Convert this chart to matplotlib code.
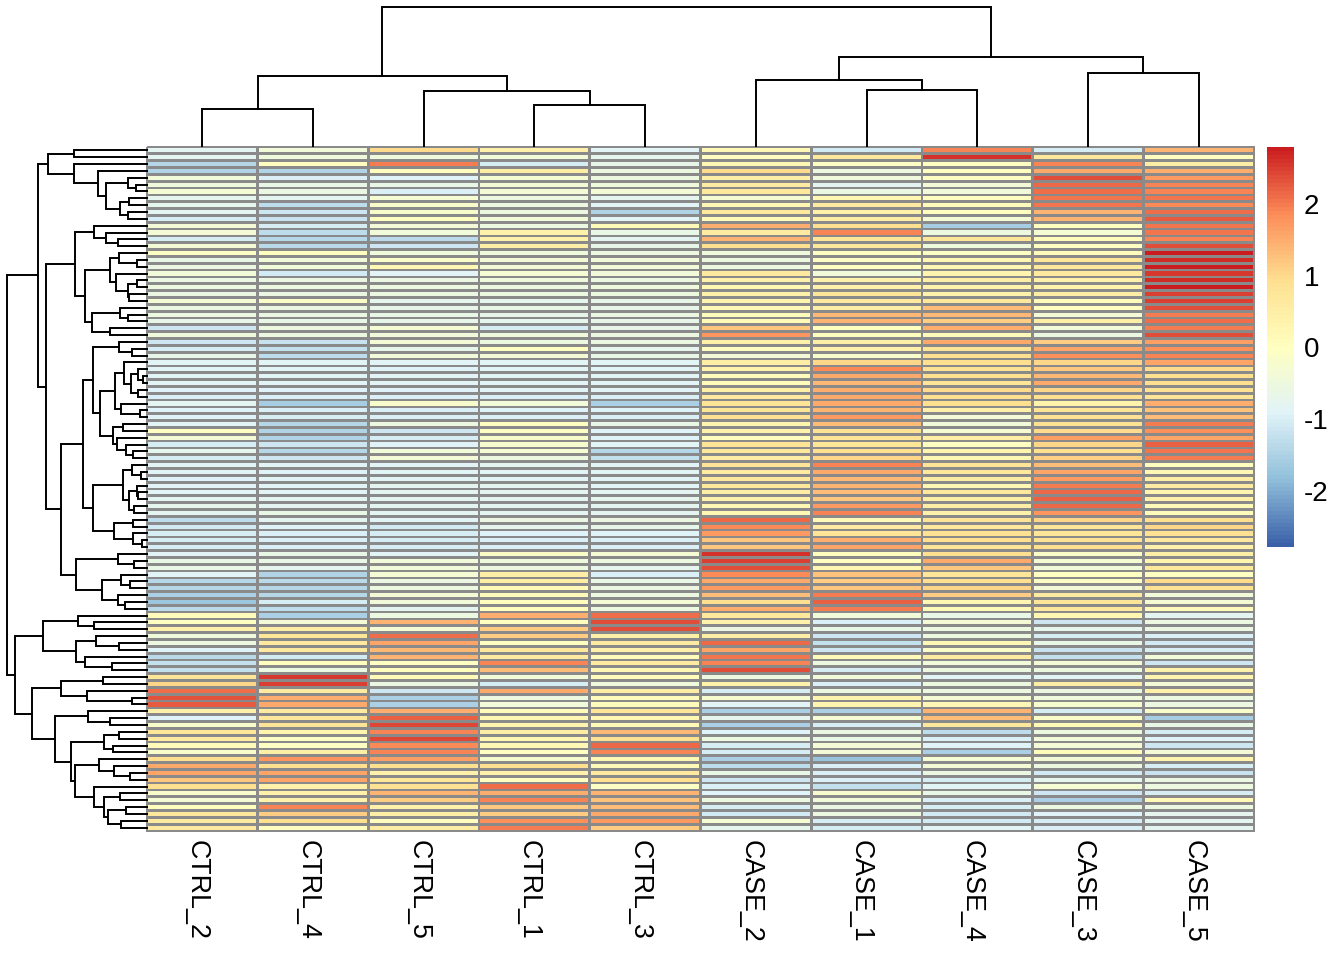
# --------------------------------------
# Clustered expression heatmap (CTRL vs CASE)
# --------------------------------------

import numpy as np
import matplotlib
matplotlib.use("Agg")
import matplotlib.pyplot as plt
from matplotlib.colors import LinearSegmentedColormap, Normalize
from matplotlib.cm import ScalarMappable
from matplotlib.transforms import ScaledTranslation

plt.rcParams["font.family"] = ["Liberation Sans", "DejaVu Sans"]
plt.rcParams["axes.unicode_minus"] = False

# ------------------------------
# Data
# ------------------------------
column_labels = ["CTRL_2", "CTRL_4", "CTRL_5", "CTRL_1", "CTRL_3",
                 "CASE_2", "CASE_1", "CASE_4", "CASE_3", "CASE_5"]
legend_ticks = [-2, -1, 0, 1, 2]
value_min = -2.78
value_max = 2.79

# one line per row: CTRL_2, CTRL_4, CTRL_5, CTRL_1, CTRL_3
ctrl_values = [
    [-0.8, -0.4, 1.0, 0.4, -0.85], [-0.8, -0.45, -0.45, -0.4, -0.75], [-1.4, 0.05, 2.0, -1.05, -0.7],
    [-1.45, -1.45, 0.05, 0.55, -0.55], [-0.4, -0.95, -0.9, -0.3, -0.55], [-0.45, -0.65, -0.65, -0.35, -0.45],
    [-0.3, -0.6, -0.95, -0.35, -0.35], [-0.75, -0.8, -0.3, -0.55, -0.75], [-0.75, -1.3, -0.2, -0.55, -0.85],
    [-0.8, -1.15, -0.2, -0.5, -1.45], [-1.0, -1.2, 0.0, -0.4, -0.85], [-0.35, -1.05, -0.35, -0.55, 0.15],
    [-0.35, -1.3, -0.4, 0.4, -0.65], [-1.0, -1.4, -1.35, 0.4, -0.8], [-0.35, -1.35, -1.15, 0.5, -0.7],
    [-0.1, 0.05, -0.45, -0.45, -0.5], [-0.65, -0.4, -0.15, -0.35, -0.4], [-0.6, -0.4, 0.2, -0.35, -0.4],
    [-0.4, -1.1, -0.85, -0.3, -0.4], [-0.6, -0.6, -0.6, -0.45, -0.5], [-0.5, -0.55, -0.5, -0.5, -0.45],
    [-0.6, -0.6, -0.5, -0.55, -0.55], [-0.35, -0.15, -0.75, -0.75, -0.7], [-0.6, -0.6, -0.7, -0.65, -0.7],
    [-0.55, -0.6, -0.65, -0.7, -0.6], [-0.7, -0.65, -0.7, -0.75, -0.7], [-1.15, -0.5, -0.3, -1.05, -0.7],
    [-0.45, -0.5, -0.4, -0.45, -0.5], [-1.15, -1.2, -0.35, -0.55, -0.6], [-1.05, -1.25, -0.7, 0.0, -0.75],
    [-0.7, -1.3, -0.4, -0.35, -0.65], [-0.85, -0.85, -0.85, -0.85, -0.85], [-0.85, -0.85, -0.9, -0.85, -0.85],
    [-0.85, -0.85, -0.85, -0.85, -0.85], [-0.85, -0.85, -0.85, -0.85, -0.85], [-0.9, -0.9, -0.9, -0.85, -0.85],
    [-0.95, -0.95, -0.95, -0.95, -0.95], [-0.8, -1.6, -0.2, -0.4, -1.5], [-0.9, -0.95, -0.95, -0.9, -0.9],
    [-0.9, -1.0, -0.95, -0.95, -0.95], [-0.85, -1.4, -0.5, 0.0, -0.65], [-0.05, -1.45, -1.15, -0.1, -0.9],
    [-0.35, -1.45, -1.0, -0.2, -0.9], [-1.05, -1.15, -0.9, -0.25, -0.85], [-0.75, -1.4, -0.4, -0.3, -1.4],
    [-1.0, -1.15, -0.35, -0.5, -1.25], [-0.85, -0.85, -0.85, -0.8, -0.85], [-0.85, -0.9, -0.85, -0.85, -0.85],
    [-0.9, -0.85, -0.85, -0.85, -0.85], [-0.85, -0.85, -0.8, -0.8, -0.85], [-0.85, -0.85, -0.8, -0.8, -0.8],
    [-0.8, -0.8, -0.8, -0.8, -0.75], [-0.75, -0.8, -0.8, -0.8, -0.8], [-0.8, -0.65, -0.8, -0.8, -0.8],
    [-1.3, -0.8, -0.85, -0.6, -0.6], [-1.1, -0.9, -1.1, -0.75, -0.7], [-1.0, -0.95, -1.0, -0.9, -0.9],
    [-1.05, -0.95, -1.0, -0.95, -0.95], [-1.0, -0.95, -1.0, -0.95, -0.95], [-0.85, -0.65, -0.85, -0.15, -0.3],
    [-0.65, -0.65, -0.4, -0.45, -0.5], [-0.65, -0.75, -0.4, -0.55, -0.75], [-0.85, -1.45, -0.3, 0.55, -0.95],
    [-1.4, -1.35, -0.6, 0.55, -0.65], [-1.4, -1.4, -0.5, 0.15, -0.6], [-1.5, -1.4, -0.35, 0.1, -0.5],
    [-1.7, -1.05, -0.4, 0.05, -0.35], [-1.35, -1.3, -0.8, 0.05, -0.5], [0.1, -1.55, -0.55, 1.5, 2.1],
    [0.0, -0.35, 1.4, 0.05, 2.4], [0.4, 0.55, -0.35, 1.15, 2.4], [-0.45, 0.75, 2.1, 1.15, 0.5],
    [-0.55, 0.65, 1.6, 0.0, 0.6], [-0.9, 0.65, 1.35, 0.7, 0.4], [-1.35, -1.1, 1.45, 0.6, 0.1],
    [-1.25, 0.05, 0.0, 1.9, 0.6], [-1.25, -0.5, 0.05, 1.3, 0.2], [0.75, 2.55, 0.15, -0.4, 0.1],
    [1.05, 2.5, -0.6, -1.05, -0.45], [2.1, 0.6, -1.15, 1.55, 0.55], [2.3, 1.5, -1.5, -0.5, 0.1],
    [2.25, 1.55, -1.5, -0.4, 0.1], [0.4, 0.6, 1.5, 0.1, 0.75], [-0.9, 0.7, 2.2, 0.25, 0.25],
    [-0.2, 0.8, 2.45, 0.3, 0.15], [0.75, 0.3, 1.95, 0.55, 1.35], [0.6, -0.1, 2.45, 0.25, 0.85],
    [0.1, -0.1, 1.85, 0.2, 2.15], [-0.2, 0.5, 1.9, -0.05, 1.9], [0.9, 1.75, 1.65, -0.25, 0.2],
    [1.55, 0.95, 0.9, 0.9, 0.15], [1.6, 1.6, 0.45, 0.45, 0.65], [1.2, 1.6, 0.75, 0.05, 0.9],
    [0.95, 0.45, 0.85, 2.1, -0.1], [-0.2, 0.4, 1.45, 1.5, 1.4], [-0.3, 0.35, 1.15, 1.95, 1.25],
    [0.05, 1.9, 0.4, 1.2, 1.3], [0.7, 1.15, 0.5, 1.15, 1.55], [0.6, 0.95, 0.05, 1.8, 1.7],
    [0.6, 0.05, 0.55, 2.0, 1.15],
]

# one line per row: CASE_2, CASE_1, CASE_4, CASE_3, CASE_5
case_values = [
    [0.2, -1.1, 1.9, -1.05, 1.45], [0.05, 0.7, 2.6, 0.7, 0.05], [0.2, -0.1, 0.0, 1.9, 0.55],
    [1.0, -0.5, 0.0, 1.55, 1.5], [0.5, -0.45, -0.1, 2.35, 1.7], [0.6, -0.8, -0.35, 2.15, 1.9],
    [0.7, -0.6, -0.4, 2.1, 1.95], [-0.3, 0.25, 0.05, 2.05, 2.05], [0.2, 0.6, 0.1, 2.05, 1.85],
    [0.7, 0.45, 0.05, 1.4, 2.1], [0.15, 0.55, -0.35, 1.45, 2.25], [1.5, 0.9, -1.6, 0.05, 2.05],
    [0.6, 1.95, -0.5, -0.3, 2.05], [1.45, 0.75, 0.75, 0.1, 1.95], [0.95, 0.7, -0.45, 0.0, 2.35],
    [-0.45, -0.05, -0.1, 0.1, 2.79], [-0.5, -0.1, 0.2, 0.75, 2.65], [-0.55, -0.05, 0.25, 0.7, 2.75],
    [0.65, -0.4, 0.3, 0.65, 2.55], [0.45, 0.35, 0.5, 0.45, 2.65], [0.25, 0.4, 0.35, 0.35, 2.78],
    [0.4, 0.75, 0.35, 0.55, 2.5], [0.3, 0.65, 0.7, 0.1, 2.5], [0.15, 0.55, 1.3, 0.05, 2.4],
    [0.1, 1.35, 1.35, -0.35, 2.0], [0.15, 1.45, 1.15, 0.5, 2.1], [1.2, 0.05, 1.5, -0.4, 2.0],
    [1.75, 0.05, 0.1, -0.5, 2.35], [0.4, 0.5, 1.55, 1.15, 1.65], [0.05, 0.45, 0.8, 1.6, 1.8],
    [-0.35, -0.2, 0.9, 1.8, 1.95], [0.55, 1.05, 0.95, 1.05, 1.6], [0.35, 1.85, 0.85, 1.2, 1.0],
    [0.1, 1.55, 0.9, 1.35, 0.95], [0.1, 1.35, 0.75, 1.55, 0.95], [0.5, 1.5, 1.0, 1.05, 0.85],
    [0.65, 1.55, 0.95, 0.9, 0.8], [0.8, 1.55, 0.9, 0.35, 1.5], [0.75, 1.4, 0.45, 0.8, 1.25],
    [0.85, 1.7, -0.35, 0.85, 1.3], [0.3, 1.3, -0.4, 0.85, 2.0], [0.35, 0.85, -0.3, 1.0, 1.8],
    [0.05, 0.8, 0.5, 1.65, 1.6], [0.8, 0.75, -0.05, 1.05, 2.2], [0.7, 0.9, 0.3, 0.9, 2.05],
    [0.55, 1.05, 0.2, 1.1, 2.0], [0.8, 1.95, 0.8, 1.3, 0.05], [0.6, 1.55, 0.7, 1.6, 0.2],
    [0.7, 1.35, 0.55, 1.7, 0.55], [0.7, 1.4, 0.2, 2.0, 0.6], [0.55, 1.3, 0.7, 2.15, 0.3],
    [0.35, 1.2, 0.5, 2.2, 0.4], [0.2, 1.7, 0.55, 2.15, 0.15], [0.25, 1.9, 0.4, 1.75, 0.1],
    [2.15, 0.15, 0.8, 1.05, 0.9], [1.85, 0.6, 0.7, 0.75, 1.05], [1.7, 0.8, 0.85, 0.75, 0.85],
    [1.2, 1.5, 0.9, 0.85, 0.65], [1.2, 1.6, 0.8, 0.9, 0.45], [2.6, 0.05, 0.9, -0.15, 0.5],
    [2.5, -0.05, 1.55, -0.3, 0.3], [2.35, 0.25, 1.2, -0.4, 0.7], [1.85, 1.25, 0.75, -0.05, -0.05],
    [1.55, 1.15, 0.95, -0.1, 1.0], [1.7, 1.2, 1.05, -0.35, 0.85], [1.3, 2.0, 1.15, 0.6, -0.4],
    [0.9, 2.2, 0.25, 0.75, -0.3], [1.5, 2.0, 0.15, 0.7, 0.1], [0.7, -0.4, -0.65, 0.25, -0.8],
    [0.35, -0.95, -0.35, -1.15, -0.55], [-0.6, -0.65, -0.55, -0.75, -0.6], [0.55, -1.15, -0.5, -1.05, -0.95],
    [2.15, -1.25, 0.2, -0.65, -1.1], [1.6, -1.15, -0.15, -1.2, -1.05], [2.05, 0.15, 0.6, -1.25, -0.4],
    [1.95, -0.5, -0.4, -0.35, -1.15], [2.4, -1.05, -0.55, -0.55, 0.35], [-0.55, -0.4, -0.85, -0.85, 0.3],
    [0.35, -0.95, -0.55, 0.55, -0.35], [-1.05, -0.55, -0.5, -0.6, 0.4], [-0.25, 0.3, -0.3, -0.45, -0.5],
    [-0.85, 0.3, 0.2, -0.25, -0.55], [-1.55, -1.55, 1.4, -1.0, -0.2], [-0.75, -0.3, 1.3, -0.15, -1.6],
    [-1.55, -1.0, 0.7, 0.15, -0.65], [-0.9, -0.6, -1.3, -0.55, -1.0], [-0.5, -0.65, -0.95, -0.4, -0.9],
    [-1.05, -0.35, -0.9, -0.35, -1.15], [-1.0, -0.35, -1.5, 0.1, -0.35], [-1.55, -1.75, -0.3, -0.35, 0.3],
    [-1.3, -0.95, -0.35, -0.5, -1.0], [-0.65, -0.95, -0.6, -1.1, -1.2], [-1.15, -0.95, -1.0, -0.75, -0.6],
    [-0.95, -1.25, -0.85, -0.3, -0.55], [-0.9, -0.25, -0.65, -1.15, -1.05], [-0.55, -0.4, -0.95, -1.55, 0.15],
    [-1.05, -0.6, -1.05, -0.55, -0.55], [-1.1, -0.5, -1.1, -0.9, -0.75], [-0.3, -1.0, -1.1, -1.05, -0.8],
    [-0.75, -1.05, -0.85, -0.95, -0.8],
]

# Dendrograms as nested (merge height, child, child); an int is a leaf index
col_tree = (1.0,
            (0.504, (0.266, 0, 1), (0.396, 2, (0.295, 3, 4))),
            (0.64, (0.475, 5, (0.403, 6, 7)), (0.525, 8, 9)))

row_top = (298, (219, 0, 1), (221, 2, (146, 3, (123, (56, 4, (34, 5, 6)), (81, (53, 7, 8), (56, 9, 10))))))
row_mid_a = (216,
             (158, 11, (123, 12, (88, 13, 14))),
             (185,
              (111, (84, 15, (29, 16, 17)), (94, 18, (58, (29, 19, 20), (53, 21, 22)))),
              (166, (81, 23, (58, 24, 25)), (111, 26, 27))))
row_mid_b = (161,
             (84, 28, (44, 29, 30)),
             (141,
              (96,
               (68, 31, (48, (26, 32, (11, 33, 34)), (26, 35, 36))),
               (79, 37, (21, 38, 39))),
              (101, (73, 40, 41), (89, 42, (63, 43, (43, 44, 45))))))
row_mid_c = (163,
             (71,
              (46, 46, (18, 47, 48)),
              (53, (29, 49, (26, 50, 51)), (39, 52, 53))),
             (98, (43, 54, 55), (43, 56, (16, 57, 58))))
row_mid_d = (214,
             (86, 59, (39, 60, 61)),
             (136, (79, 62, (51, 63, 64)), (88, 65, (66, 66, 67))))
row_low_a = (314,
             (206, 68, (158, 69, 70)),
             (214, (154, 71, (84, 72, 73)), (186, 74, (106, 75, 76))))
row_low_b = (258,
             (131, 77, 78),
             (179, 79, (44, 80, 81)))
row_low_c = (228,
             (128, (83, 85, 86), (101, 87, 88)),
             (216,
              (143, 89, (98, 90, (51, 91, 92))),
              (158, 93, (128, (81, 94, 95), (118, (63, 96, 97), (78, 98, 99))))))
row_tree = (421,
            (329, row_top, (304, row_mid_a, (258, (191, row_mid_b, row_mid_c), row_mid_d))),
            (396, row_low_a, (345, row_low_b, (276, (176, 82, (111, 83, 84)), row_low_c))))

# ------------------------------
# Colours and layout
# ------------------------------
heat_cmap = LinearSegmentedColormap.from_list(
    "heat", ["#3A60A8", "#91BFDB", "#E0F3F8", "#FFFFBF", "#FEE090", "#FC8D59", "#CB1D1F"], N=100)
norm = Normalize(value_min, value_max)
W, H = 1344, 960


def pixel_axes(fig, left, top, right, bottom):
    return fig.add_axes([left / W, 1 - bottom / H, (right - left) / W, (bottom - top) / H])


def draw_tree(ax, node, horizontal):
    # returns (leaf position, height) of a node and draws its bracket
    if isinstance(node, int):
        return node + 0.5, 0
    height, left, right = node
    pos_a, h_a = draw_tree(ax, left, horizontal)
    pos_b, h_b = draw_tree(ax, right, horizontal)
    pos = [pos_a, pos_a, pos_b, pos_b]
    hts = [h_a, height, height, h_b]
    if horizontal:
        ax.plot(hts, pos, color="black", lw=1.4, solid_joinstyle="miter", clip_on=False)
    else:
        ax.plot(pos, hts, color="black", lw=1.4, solid_joinstyle="miter", clip_on=False)
    return (pos_a + pos_b) / 2, height


values = np.hstack([np.array(ctrl_values), np.array(case_values)])

fig = plt.figure(figsize=(W / 100, H / 100), dpi=100, facecolor="white")

# ------------------------------
# Heatmap
# ------------------------------
ax = pixel_axes(fig, 147, 147, 1254, 831)
mesh = ax.pcolormesh(values, cmap=heat_cmap, norm=norm, edgecolors="#8A8A8A", linewidth=1.25)
mesh.set_clip_on(False)
mesh.set_snap(False)  # keep all grid lines the same weight
ax.set_xlim(0, values.shape[1])
ax.set_ylim(values.shape[0], 0)
ax.set_yticks([])
ax.set_xticks(np.arange(len(column_labels)) + 0.5)
ax.set_xticklabels(column_labels, rotation=270, ha="center", va="top", fontsize=19.3)
ax.tick_params(axis="x", length=0, pad=6.5)
# rotated labels sit a little right of the column centre, pull them back
for label in ax.get_xticklabels():
    label.set_transform(label.get_transform() + ScaledTranslation(-5.5 / 100, 0, fig.dpi_scale_trans))
for spine in ax.spines.values():
    spine.set_visible(False)

# ------------------------------
# Dendrograms
# ------------------------------
ax_top = pixel_axes(fig, 147, 7, 1254, 146)
draw_tree(ax_top, col_tree, False)
ax_top.set_xlim(0, len(column_labels))
ax_top.set_ylim(0, 1)
ax_top.axis("off")

ax_left = pixel_axes(fig, 7, 147, 147, 831)
draw_tree(ax_left, row_tree, True)
ax_left.set_xlim(421, 0)
ax_left.set_ylim(values.shape[0], 0)
ax_left.axis("off")

# ------------------------------
# Colour legend
# ------------------------------
cax = pixel_axes(fig, 1267, 147, 1294, 547)
cbar = fig.colorbar(ScalarMappable(norm=norm, cmap=heat_cmap), cax=cax, ticks=legend_ticks)
cbar.outline.set_visible(False)
cbar.ax.tick_params(length=0, pad=7, labelsize=20)

fig.savefig("out.png", dpi=100)
